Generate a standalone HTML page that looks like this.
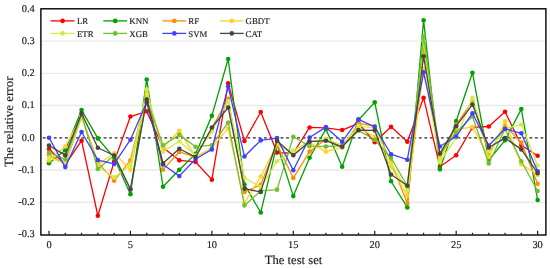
<!DOCTYPE html>
<html><head><meta charset="utf-8"><title>The relative error</title>
<style>html,body{margin:0;padding:0;background:#fff;}svg{display:block;}text{text-rendering:geometricPrecision;}</style>
</head><body>
<svg width="550" height="268" viewBox="0 0 550 268">
<rect x="0" y="0" width="550" height="268" fill="#fff"/>
<line x1="40.9" y1="202.22" x2="545.9" y2="202.22" stroke="#e9e9e9" stroke-width="1.4"/>
<line x1="40.9" y1="170.00" x2="545.9" y2="170.00" stroke="#e9e9e9" stroke-width="1.4"/>
<line x1="40.9" y1="105.56" x2="545.9" y2="105.56" stroke="#e9e9e9" stroke-width="1.4"/>
<line x1="40.9" y1="73.34" x2="545.9" y2="73.34" stroke="#e9e9e9" stroke-width="1.4"/>
<line x1="40.9" y1="41.12" x2="545.9" y2="41.12" stroke="#e9e9e9" stroke-width="1.4"/>
<line x1="42.8" y1="137.78" x2="545.9" y2="137.78" stroke="#262626" stroke-width="1.3" stroke-dasharray="2.8 2.73"/>
<polyline points="49.00,149.06 65.29,164.52 81.57,140.68 97.86,215.75 114.15,161.62 130.44,116.51 146.72,111.36 163.01,147.45 179.30,160.33 195.58,161.95 211.87,179.67 228.16,83.33 244.44,141.00 260.73,112.00 277.02,152.60 293.30,153.25 309.59,127.47 325.88,127.79 342.17,130.05 358.45,123.28 374.74,142.29 391.03,126.83 407.31,141.65 423.60,97.83 439.89,166.78 456.17,155.18 472.46,127.47 488.75,126.50 505.04,111.68 521.32,145.19 537.61,155.82" fill="none" stroke="#ff0000" stroke-width="1.3" stroke-linejoin="round"/>
<circle cx="49.00" cy="149.06" r="2.3" fill="#ff0000"/>
<circle cx="65.29" cy="164.52" r="2.3" fill="#ff0000"/>
<circle cx="81.57" cy="140.68" r="2.3" fill="#ff0000"/>
<circle cx="97.86" cy="215.75" r="2.3" fill="#ff0000"/>
<circle cx="114.15" cy="161.62" r="2.3" fill="#ff0000"/>
<circle cx="130.44" cy="116.51" r="2.3" fill="#ff0000"/>
<circle cx="146.72" cy="111.36" r="2.3" fill="#ff0000"/>
<circle cx="163.01" cy="147.45" r="2.3" fill="#ff0000"/>
<circle cx="179.30" cy="160.33" r="2.3" fill="#ff0000"/>
<circle cx="195.58" cy="161.95" r="2.3" fill="#ff0000"/>
<circle cx="211.87" cy="179.67" r="2.3" fill="#ff0000"/>
<circle cx="228.16" cy="83.33" r="2.3" fill="#ff0000"/>
<circle cx="244.44" cy="141.00" r="2.3" fill="#ff0000"/>
<circle cx="260.73" cy="112.00" r="2.3" fill="#ff0000"/>
<circle cx="277.02" cy="152.60" r="2.3" fill="#ff0000"/>
<circle cx="293.30" cy="153.25" r="2.3" fill="#ff0000"/>
<circle cx="309.59" cy="127.47" r="2.3" fill="#ff0000"/>
<circle cx="325.88" cy="127.79" r="2.3" fill="#ff0000"/>
<circle cx="342.17" cy="130.05" r="2.3" fill="#ff0000"/>
<circle cx="358.45" cy="123.28" r="2.3" fill="#ff0000"/>
<circle cx="374.74" cy="142.29" r="2.3" fill="#ff0000"/>
<circle cx="391.03" cy="126.83" r="2.3" fill="#ff0000"/>
<circle cx="407.31" cy="141.65" r="2.3" fill="#ff0000"/>
<circle cx="423.60" cy="97.83" r="2.3" fill="#ff0000"/>
<circle cx="439.89" cy="166.78" r="2.3" fill="#ff0000"/>
<circle cx="456.17" cy="155.18" r="2.3" fill="#ff0000"/>
<circle cx="472.46" cy="127.47" r="2.3" fill="#ff0000"/>
<circle cx="488.75" cy="126.50" r="2.3" fill="#ff0000"/>
<circle cx="505.04" cy="111.68" r="2.3" fill="#ff0000"/>
<circle cx="521.32" cy="145.19" r="2.3" fill="#ff0000"/>
<circle cx="537.61" cy="155.82" r="2.3" fill="#ff0000"/>
<polyline points="49.00,163.23 65.29,150.35 81.57,110.07 97.86,138.42 114.15,157.76 130.44,194.16 146.72,79.46 163.01,186.75 179.30,169.68 195.58,153.89 211.87,115.87 228.16,59.00 244.44,184.50 260.73,212.53 277.02,144.22 293.30,196.10 309.59,157.76 325.88,129.08 342.17,166.78 358.45,120.06 374.74,102.34 391.03,181.28 407.31,207.38 423.60,20.18 439.89,169.36 456.17,121.03 472.46,72.70 488.75,160.01 505.04,140.36 521.32,109.10 537.61,199.96" fill="none" stroke="#00a000" stroke-width="1.3" stroke-linejoin="round"/>
<circle cx="49.00" cy="163.23" r="2.3" fill="#00a000"/>
<circle cx="65.29" cy="150.35" r="2.3" fill="#00a000"/>
<circle cx="81.57" cy="110.07" r="2.3" fill="#00a000"/>
<circle cx="97.86" cy="138.42" r="2.3" fill="#00a000"/>
<circle cx="114.15" cy="157.76" r="2.3" fill="#00a000"/>
<circle cx="130.44" cy="194.16" r="2.3" fill="#00a000"/>
<circle cx="146.72" cy="79.46" r="2.3" fill="#00a000"/>
<circle cx="163.01" cy="186.75" r="2.3" fill="#00a000"/>
<circle cx="179.30" cy="169.68" r="2.3" fill="#00a000"/>
<circle cx="195.58" cy="153.89" r="2.3" fill="#00a000"/>
<circle cx="211.87" cy="115.87" r="2.3" fill="#00a000"/>
<circle cx="228.16" cy="59.00" r="2.3" fill="#00a000"/>
<circle cx="244.44" cy="184.50" r="2.3" fill="#00a000"/>
<circle cx="260.73" cy="212.53" r="2.3" fill="#00a000"/>
<circle cx="277.02" cy="144.22" r="2.3" fill="#00a000"/>
<circle cx="293.30" cy="196.10" r="2.3" fill="#00a000"/>
<circle cx="309.59" cy="157.76" r="2.3" fill="#00a000"/>
<circle cx="325.88" cy="129.08" r="2.3" fill="#00a000"/>
<circle cx="342.17" cy="166.78" r="2.3" fill="#00a000"/>
<circle cx="358.45" cy="120.06" r="2.3" fill="#00a000"/>
<circle cx="374.74" cy="102.34" r="2.3" fill="#00a000"/>
<circle cx="391.03" cy="181.28" r="2.3" fill="#00a000"/>
<circle cx="407.31" cy="207.38" r="2.3" fill="#00a000"/>
<circle cx="423.60" cy="20.18" r="2.3" fill="#00a000"/>
<circle cx="439.89" cy="169.36" r="2.3" fill="#00a000"/>
<circle cx="456.17" cy="121.03" r="2.3" fill="#00a000"/>
<circle cx="472.46" cy="72.70" r="2.3" fill="#00a000"/>
<circle cx="488.75" cy="160.01" r="2.3" fill="#00a000"/>
<circle cx="505.04" cy="140.36" r="2.3" fill="#00a000"/>
<circle cx="521.32" cy="109.10" r="2.3" fill="#00a000"/>
<circle cx="537.61" cy="199.96" r="2.3" fill="#00a000"/>
<polyline points="49.00,155.18 65.29,164.20 81.57,116.84 97.86,162.59 114.15,180.63 130.44,160.33 146.72,92.99 163.01,169.68 179.30,151.96 195.58,157.11 211.87,128.11 228.16,98.79 244.44,191.91 260.73,184.82 277.02,144.22 293.30,178.06 309.59,151.63 325.88,139.07 342.17,147.45 358.45,123.28 374.74,126.18 391.03,161.95 407.31,203.19 423.60,47.56 439.89,157.11 456.17,124.89 472.46,101.05 488.75,153.57 505.04,125.54 521.32,142.61 537.61,183.85" fill="none" stroke="#ff8c00" stroke-width="1.3" stroke-linejoin="round"/>
<circle cx="49.00" cy="155.18" r="2.3" fill="#ff8c00"/>
<circle cx="65.29" cy="164.20" r="2.3" fill="#ff8c00"/>
<circle cx="81.57" cy="116.84" r="2.3" fill="#ff8c00"/>
<circle cx="97.86" cy="162.59" r="2.3" fill="#ff8c00"/>
<circle cx="114.15" cy="180.63" r="2.3" fill="#ff8c00"/>
<circle cx="130.44" cy="160.33" r="2.3" fill="#ff8c00"/>
<circle cx="146.72" cy="92.99" r="2.3" fill="#ff8c00"/>
<circle cx="163.01" cy="169.68" r="2.3" fill="#ff8c00"/>
<circle cx="179.30" cy="151.96" r="2.3" fill="#ff8c00"/>
<circle cx="195.58" cy="157.11" r="2.3" fill="#ff8c00"/>
<circle cx="211.87" cy="128.11" r="2.3" fill="#ff8c00"/>
<circle cx="228.16" cy="98.79" r="2.3" fill="#ff8c00"/>
<circle cx="244.44" cy="191.91" r="2.3" fill="#ff8c00"/>
<circle cx="260.73" cy="184.82" r="2.3" fill="#ff8c00"/>
<circle cx="277.02" cy="144.22" r="2.3" fill="#ff8c00"/>
<circle cx="293.30" cy="178.06" r="2.3" fill="#ff8c00"/>
<circle cx="309.59" cy="151.63" r="2.3" fill="#ff8c00"/>
<circle cx="325.88" cy="139.07" r="2.3" fill="#ff8c00"/>
<circle cx="342.17" cy="147.45" r="2.3" fill="#ff8c00"/>
<circle cx="358.45" cy="123.28" r="2.3" fill="#ff8c00"/>
<circle cx="374.74" cy="126.18" r="2.3" fill="#ff8c00"/>
<circle cx="391.03" cy="161.95" r="2.3" fill="#ff8c00"/>
<circle cx="407.31" cy="203.19" r="2.3" fill="#ff8c00"/>
<circle cx="423.60" cy="47.56" r="2.3" fill="#ff8c00"/>
<circle cx="439.89" cy="157.11" r="2.3" fill="#ff8c00"/>
<circle cx="456.17" cy="124.89" r="2.3" fill="#ff8c00"/>
<circle cx="472.46" cy="101.05" r="2.3" fill="#ff8c00"/>
<circle cx="488.75" cy="153.57" r="2.3" fill="#ff8c00"/>
<circle cx="505.04" cy="125.54" r="2.3" fill="#ff8c00"/>
<circle cx="521.32" cy="142.61" r="2.3" fill="#ff8c00"/>
<circle cx="537.61" cy="183.85" r="2.3" fill="#ff8c00"/>
<polyline points="49.00,160.33 65.29,146.48 81.57,116.51 97.86,164.84 114.15,153.25 130.44,169.68 146.72,94.61 163.01,147.45 179.30,130.69 195.58,157.11 211.87,147.45 228.16,128.44 244.44,203.19 260.73,176.44 277.02,144.55 293.30,153.57 309.59,142.94 325.88,151.63 342.17,147.45 358.45,128.11 374.74,136.49 391.03,166.46 407.31,195.78 423.60,69.15 439.89,158.72 456.17,129.72 472.46,126.83 488.75,157.11 505.04,121.35 521.32,164.20 537.61,174.83" fill="none" stroke="#ffd324" stroke-width="1.3" stroke-linejoin="round"/>
<circle cx="49.00" cy="160.33" r="2.3" fill="#ffd324"/>
<circle cx="65.29" cy="146.48" r="2.3" fill="#ffd324"/>
<circle cx="81.57" cy="116.51" r="2.3" fill="#ffd324"/>
<circle cx="97.86" cy="164.84" r="2.3" fill="#ffd324"/>
<circle cx="114.15" cy="153.25" r="2.3" fill="#ffd324"/>
<circle cx="130.44" cy="169.68" r="2.3" fill="#ffd324"/>
<circle cx="146.72" cy="94.61" r="2.3" fill="#ffd324"/>
<circle cx="163.01" cy="147.45" r="2.3" fill="#ffd324"/>
<circle cx="179.30" cy="130.69" r="2.3" fill="#ffd324"/>
<circle cx="195.58" cy="157.11" r="2.3" fill="#ffd324"/>
<circle cx="211.87" cy="147.45" r="2.3" fill="#ffd324"/>
<circle cx="228.16" cy="128.44" r="2.3" fill="#ffd324"/>
<circle cx="244.44" cy="203.19" r="2.3" fill="#ffd324"/>
<circle cx="260.73" cy="176.44" r="2.3" fill="#ffd324"/>
<circle cx="277.02" cy="144.55" r="2.3" fill="#ffd324"/>
<circle cx="293.30" cy="153.57" r="2.3" fill="#ffd324"/>
<circle cx="309.59" cy="142.94" r="2.3" fill="#ffd324"/>
<circle cx="325.88" cy="151.63" r="2.3" fill="#ffd324"/>
<circle cx="342.17" cy="147.45" r="2.3" fill="#ffd324"/>
<circle cx="358.45" cy="128.11" r="2.3" fill="#ffd324"/>
<circle cx="374.74" cy="136.49" r="2.3" fill="#ffd324"/>
<circle cx="391.03" cy="166.46" r="2.3" fill="#ffd324"/>
<circle cx="407.31" cy="195.78" r="2.3" fill="#ffd324"/>
<circle cx="423.60" cy="69.15" r="2.3" fill="#ffd324"/>
<circle cx="439.89" cy="158.72" r="2.3" fill="#ffd324"/>
<circle cx="456.17" cy="129.72" r="2.3" fill="#ffd324"/>
<circle cx="472.46" cy="126.83" r="2.3" fill="#ffd324"/>
<circle cx="488.75" cy="157.11" r="2.3" fill="#ffd324"/>
<circle cx="505.04" cy="121.35" r="2.3" fill="#ffd324"/>
<circle cx="521.32" cy="164.20" r="2.3" fill="#ffd324"/>
<circle cx="537.61" cy="174.83" r="2.3" fill="#ffd324"/>
<polyline points="49.00,157.43 65.29,163.56 81.57,115.87 97.86,166.78 114.15,177.41 130.44,165.17 146.72,89.45 163.01,151.63 179.30,141.32 195.58,155.50 211.87,131.34 228.16,101.05 244.44,177.73 260.73,187.08 277.02,161.30 293.30,150.67 309.59,141.65 325.88,139.07 342.17,144.87 358.45,125.86 374.74,128.11 391.03,163.23 407.31,190.62 423.60,41.12 439.89,161.95 456.17,137.78 472.46,97.83 488.75,151.31 505.04,128.44 521.32,124.57 537.61,165.49" fill="none" stroke="#d2eb46" stroke-width="1.3" stroke-linejoin="round"/>
<circle cx="49.00" cy="157.43" r="2.3" fill="#d2eb46"/>
<circle cx="65.29" cy="163.56" r="2.3" fill="#d2eb46"/>
<circle cx="81.57" cy="115.87" r="2.3" fill="#d2eb46"/>
<circle cx="97.86" cy="166.78" r="2.3" fill="#d2eb46"/>
<circle cx="114.15" cy="177.41" r="2.3" fill="#d2eb46"/>
<circle cx="130.44" cy="165.17" r="2.3" fill="#d2eb46"/>
<circle cx="146.72" cy="89.45" r="2.3" fill="#d2eb46"/>
<circle cx="163.01" cy="151.63" r="2.3" fill="#d2eb46"/>
<circle cx="179.30" cy="141.32" r="2.3" fill="#d2eb46"/>
<circle cx="195.58" cy="155.50" r="2.3" fill="#d2eb46"/>
<circle cx="211.87" cy="131.34" r="2.3" fill="#d2eb46"/>
<circle cx="228.16" cy="101.05" r="2.3" fill="#d2eb46"/>
<circle cx="244.44" cy="177.73" r="2.3" fill="#d2eb46"/>
<circle cx="260.73" cy="187.08" r="2.3" fill="#d2eb46"/>
<circle cx="277.02" cy="161.30" r="2.3" fill="#d2eb46"/>
<circle cx="293.30" cy="150.67" r="2.3" fill="#d2eb46"/>
<circle cx="309.59" cy="141.65" r="2.3" fill="#d2eb46"/>
<circle cx="325.88" cy="139.07" r="2.3" fill="#d2eb46"/>
<circle cx="342.17" cy="144.87" r="2.3" fill="#d2eb46"/>
<circle cx="358.45" cy="125.86" r="2.3" fill="#d2eb46"/>
<circle cx="374.74" cy="128.11" r="2.3" fill="#d2eb46"/>
<circle cx="391.03" cy="163.23" r="2.3" fill="#d2eb46"/>
<circle cx="407.31" cy="190.62" r="2.3" fill="#d2eb46"/>
<circle cx="423.60" cy="41.12" r="2.3" fill="#d2eb46"/>
<circle cx="439.89" cy="161.95" r="2.3" fill="#d2eb46"/>
<circle cx="456.17" cy="137.78" r="2.3" fill="#d2eb46"/>
<circle cx="472.46" cy="97.83" r="2.3" fill="#d2eb46"/>
<circle cx="488.75" cy="151.31" r="2.3" fill="#d2eb46"/>
<circle cx="505.04" cy="128.44" r="2.3" fill="#d2eb46"/>
<circle cx="521.32" cy="124.57" r="2.3" fill="#d2eb46"/>
<circle cx="537.61" cy="165.49" r="2.3" fill="#d2eb46"/>
<polyline points="49.00,152.60 65.29,159.37 81.57,114.58 97.86,169.03 114.15,155.50 130.44,189.33 146.72,99.44 163.01,145.19 179.30,134.88 195.58,146.80 211.87,145.19 228.16,122.64 244.44,205.44 260.73,190.94 277.02,189.65 293.30,136.81 309.59,146.16 325.88,146.48 342.17,145.84 358.45,130.69 374.74,139.71 391.03,157.76 407.31,186.11 423.60,36.29 439.89,153.89 456.17,132.30 472.46,116.51 488.75,163.56 505.04,129.08 521.32,161.30 537.61,190.94" fill="none" stroke="#70c030" stroke-width="1.3" stroke-linejoin="round"/>
<circle cx="49.00" cy="152.60" r="2.3" fill="#70c030"/>
<circle cx="65.29" cy="159.37" r="2.3" fill="#70c030"/>
<circle cx="81.57" cy="114.58" r="2.3" fill="#70c030"/>
<circle cx="97.86" cy="169.03" r="2.3" fill="#70c030"/>
<circle cx="114.15" cy="155.50" r="2.3" fill="#70c030"/>
<circle cx="130.44" cy="189.33" r="2.3" fill="#70c030"/>
<circle cx="146.72" cy="99.44" r="2.3" fill="#70c030"/>
<circle cx="163.01" cy="145.19" r="2.3" fill="#70c030"/>
<circle cx="179.30" cy="134.88" r="2.3" fill="#70c030"/>
<circle cx="195.58" cy="146.80" r="2.3" fill="#70c030"/>
<circle cx="211.87" cy="145.19" r="2.3" fill="#70c030"/>
<circle cx="228.16" cy="122.64" r="2.3" fill="#70c030"/>
<circle cx="244.44" cy="205.44" r="2.3" fill="#70c030"/>
<circle cx="260.73" cy="190.94" r="2.3" fill="#70c030"/>
<circle cx="277.02" cy="189.65" r="2.3" fill="#70c030"/>
<circle cx="293.30" cy="136.81" r="2.3" fill="#70c030"/>
<circle cx="309.59" cy="146.16" r="2.3" fill="#70c030"/>
<circle cx="325.88" cy="146.48" r="2.3" fill="#70c030"/>
<circle cx="342.17" cy="145.84" r="2.3" fill="#70c030"/>
<circle cx="358.45" cy="130.69" r="2.3" fill="#70c030"/>
<circle cx="374.74" cy="139.71" r="2.3" fill="#70c030"/>
<circle cx="391.03" cy="157.76" r="2.3" fill="#70c030"/>
<circle cx="407.31" cy="186.11" r="2.3" fill="#70c030"/>
<circle cx="423.60" cy="36.29" r="2.3" fill="#70c030"/>
<circle cx="439.89" cy="153.89" r="2.3" fill="#70c030"/>
<circle cx="456.17" cy="132.30" r="2.3" fill="#70c030"/>
<circle cx="472.46" cy="116.51" r="2.3" fill="#70c030"/>
<circle cx="488.75" cy="163.56" r="2.3" fill="#70c030"/>
<circle cx="505.04" cy="129.08" r="2.3" fill="#70c030"/>
<circle cx="521.32" cy="161.30" r="2.3" fill="#70c030"/>
<circle cx="537.61" cy="190.94" r="2.3" fill="#70c030"/>
<polyline points="49.00,137.78 65.29,167.10 81.57,131.98 97.86,160.01 114.15,163.88 130.44,139.71 146.72,102.34 163.01,164.52 179.30,176.12 195.58,159.05 211.87,149.38 228.16,86.55 244.44,156.47 260.73,140.36 277.02,138.10 293.30,170.32 309.59,137.46 325.88,127.15 342.17,141.65 358.45,119.41 374.74,126.83 391.03,154.21 407.31,159.69 423.60,72.37 439.89,146.48 456.17,136.49 472.46,113.29 488.75,145.51 505.04,128.76 521.32,133.27 537.61,171.29" fill="none" stroke="#3f3fff" stroke-width="1.3" stroke-linejoin="round"/>
<circle cx="49.00" cy="137.78" r="2.3" fill="#3f3fff"/>
<circle cx="65.29" cy="167.10" r="2.3" fill="#3f3fff"/>
<circle cx="81.57" cy="131.98" r="2.3" fill="#3f3fff"/>
<circle cx="97.86" cy="160.01" r="2.3" fill="#3f3fff"/>
<circle cx="114.15" cy="163.88" r="2.3" fill="#3f3fff"/>
<circle cx="130.44" cy="139.71" r="2.3" fill="#3f3fff"/>
<circle cx="146.72" cy="102.34" r="2.3" fill="#3f3fff"/>
<circle cx="163.01" cy="164.52" r="2.3" fill="#3f3fff"/>
<circle cx="179.30" cy="176.12" r="2.3" fill="#3f3fff"/>
<circle cx="195.58" cy="159.05" r="2.3" fill="#3f3fff"/>
<circle cx="211.87" cy="149.38" r="2.3" fill="#3f3fff"/>
<circle cx="228.16" cy="86.55" r="2.3" fill="#3f3fff"/>
<circle cx="244.44" cy="156.47" r="2.3" fill="#3f3fff"/>
<circle cx="260.73" cy="140.36" r="2.3" fill="#3f3fff"/>
<circle cx="277.02" cy="138.10" r="2.3" fill="#3f3fff"/>
<circle cx="293.30" cy="170.32" r="2.3" fill="#3f3fff"/>
<circle cx="309.59" cy="137.46" r="2.3" fill="#3f3fff"/>
<circle cx="325.88" cy="127.15" r="2.3" fill="#3f3fff"/>
<circle cx="342.17" cy="141.65" r="2.3" fill="#3f3fff"/>
<circle cx="358.45" cy="119.41" r="2.3" fill="#3f3fff"/>
<circle cx="374.74" cy="126.83" r="2.3" fill="#3f3fff"/>
<circle cx="391.03" cy="154.21" r="2.3" fill="#3f3fff"/>
<circle cx="407.31" cy="159.69" r="2.3" fill="#3f3fff"/>
<circle cx="423.60" cy="72.37" r="2.3" fill="#3f3fff"/>
<circle cx="439.89" cy="146.48" r="2.3" fill="#3f3fff"/>
<circle cx="456.17" cy="136.49" r="2.3" fill="#3f3fff"/>
<circle cx="472.46" cy="113.29" r="2.3" fill="#3f3fff"/>
<circle cx="488.75" cy="145.51" r="2.3" fill="#3f3fff"/>
<circle cx="505.04" cy="128.76" r="2.3" fill="#3f3fff"/>
<circle cx="521.32" cy="133.27" r="2.3" fill="#3f3fff"/>
<circle cx="537.61" cy="171.29" r="2.3" fill="#3f3fff"/>
<polyline points="49.00,145.51 65.29,155.18 81.57,113.29 97.86,147.77 114.15,155.50 130.44,189.33 146.72,99.44 163.01,163.23 179.30,148.73 195.58,157.11 211.87,127.47 228.16,107.49 244.44,188.69 260.73,191.91 277.02,140.68 293.30,155.18 309.59,141.65 325.88,140.68 342.17,146.80 358.45,130.05 374.74,130.37 391.03,174.51 407.31,185.47 423.60,56.26 439.89,153.57 456.17,126.18 472.46,104.59 488.75,147.45 505.04,138.10 521.32,149.38 537.61,173.22" fill="none" stroke="#454545" stroke-width="1.3" stroke-linejoin="round"/>
<circle cx="49.00" cy="145.51" r="2.3" fill="#454545"/>
<circle cx="65.29" cy="155.18" r="2.3" fill="#454545"/>
<circle cx="81.57" cy="113.29" r="2.3" fill="#454545"/>
<circle cx="97.86" cy="147.77" r="2.3" fill="#454545"/>
<circle cx="114.15" cy="155.50" r="2.3" fill="#454545"/>
<circle cx="130.44" cy="189.33" r="2.3" fill="#454545"/>
<circle cx="146.72" cy="99.44" r="2.3" fill="#454545"/>
<circle cx="163.01" cy="163.23" r="2.3" fill="#454545"/>
<circle cx="179.30" cy="148.73" r="2.3" fill="#454545"/>
<circle cx="195.58" cy="157.11" r="2.3" fill="#454545"/>
<circle cx="211.87" cy="127.47" r="2.3" fill="#454545"/>
<circle cx="228.16" cy="107.49" r="2.3" fill="#454545"/>
<circle cx="244.44" cy="188.69" r="2.3" fill="#454545"/>
<circle cx="260.73" cy="191.91" r="2.3" fill="#454545"/>
<circle cx="277.02" cy="140.68" r="2.3" fill="#454545"/>
<circle cx="293.30" cy="155.18" r="2.3" fill="#454545"/>
<circle cx="309.59" cy="141.65" r="2.3" fill="#454545"/>
<circle cx="325.88" cy="140.68" r="2.3" fill="#454545"/>
<circle cx="342.17" cy="146.80" r="2.3" fill="#454545"/>
<circle cx="358.45" cy="130.05" r="2.3" fill="#454545"/>
<circle cx="374.74" cy="130.37" r="2.3" fill="#454545"/>
<circle cx="391.03" cy="174.51" r="2.3" fill="#454545"/>
<circle cx="407.31" cy="185.47" r="2.3" fill="#454545"/>
<circle cx="423.60" cy="56.26" r="2.3" fill="#454545"/>
<circle cx="439.89" cy="153.57" r="2.3" fill="#454545"/>
<circle cx="456.17" cy="126.18" r="2.3" fill="#454545"/>
<circle cx="472.46" cy="104.59" r="2.3" fill="#454545"/>
<circle cx="488.75" cy="147.45" r="2.3" fill="#454545"/>
<circle cx="505.04" cy="138.10" r="2.3" fill="#454545"/>
<circle cx="521.32" cy="149.38" r="2.3" fill="#454545"/>
<circle cx="537.61" cy="173.22" r="2.3" fill="#454545"/>
<rect x="40.9" y="8.8" width="505.00" height="226.20" fill="none" stroke="#000" stroke-width="1.4"/>
<line x1="49.00" y1="235.0" x2="49.00" y2="230.80" stroke="#1a1a1a" stroke-width="1.2"/>
<line x1="65.29" y1="235.0" x2="65.29" y2="232.80" stroke="#1a1a1a" stroke-width="1.2"/>
<line x1="81.57" y1="235.0" x2="81.57" y2="232.80" stroke="#1a1a1a" stroke-width="1.2"/>
<line x1="97.86" y1="235.0" x2="97.86" y2="232.80" stroke="#1a1a1a" stroke-width="1.2"/>
<line x1="114.15" y1="235.0" x2="114.15" y2="232.80" stroke="#1a1a1a" stroke-width="1.2"/>
<line x1="130.44" y1="235.0" x2="130.44" y2="230.80" stroke="#1a1a1a" stroke-width="1.2"/>
<line x1="146.72" y1="235.0" x2="146.72" y2="232.80" stroke="#1a1a1a" stroke-width="1.2"/>
<line x1="163.01" y1="235.0" x2="163.01" y2="232.80" stroke="#1a1a1a" stroke-width="1.2"/>
<line x1="179.30" y1="235.0" x2="179.30" y2="232.80" stroke="#1a1a1a" stroke-width="1.2"/>
<line x1="195.58" y1="235.0" x2="195.58" y2="232.80" stroke="#1a1a1a" stroke-width="1.2"/>
<line x1="211.87" y1="235.0" x2="211.87" y2="230.80" stroke="#1a1a1a" stroke-width="1.2"/>
<line x1="228.16" y1="235.0" x2="228.16" y2="232.80" stroke="#1a1a1a" stroke-width="1.2"/>
<line x1="244.44" y1="235.0" x2="244.44" y2="232.80" stroke="#1a1a1a" stroke-width="1.2"/>
<line x1="260.73" y1="235.0" x2="260.73" y2="232.80" stroke="#1a1a1a" stroke-width="1.2"/>
<line x1="277.02" y1="235.0" x2="277.02" y2="232.80" stroke="#1a1a1a" stroke-width="1.2"/>
<line x1="293.30" y1="235.0" x2="293.30" y2="230.80" stroke="#1a1a1a" stroke-width="1.2"/>
<line x1="309.59" y1="235.0" x2="309.59" y2="232.80" stroke="#1a1a1a" stroke-width="1.2"/>
<line x1="325.88" y1="235.0" x2="325.88" y2="232.80" stroke="#1a1a1a" stroke-width="1.2"/>
<line x1="342.17" y1="235.0" x2="342.17" y2="232.80" stroke="#1a1a1a" stroke-width="1.2"/>
<line x1="358.45" y1="235.0" x2="358.45" y2="232.80" stroke="#1a1a1a" stroke-width="1.2"/>
<line x1="374.74" y1="235.0" x2="374.74" y2="230.80" stroke="#1a1a1a" stroke-width="1.2"/>
<line x1="391.03" y1="235.0" x2="391.03" y2="232.80" stroke="#1a1a1a" stroke-width="1.2"/>
<line x1="407.31" y1="235.0" x2="407.31" y2="232.80" stroke="#1a1a1a" stroke-width="1.2"/>
<line x1="423.60" y1="235.0" x2="423.60" y2="232.80" stroke="#1a1a1a" stroke-width="1.2"/>
<line x1="439.89" y1="235.0" x2="439.89" y2="232.80" stroke="#1a1a1a" stroke-width="1.2"/>
<line x1="456.17" y1="235.0" x2="456.17" y2="230.80" stroke="#1a1a1a" stroke-width="1.2"/>
<line x1="472.46" y1="235.0" x2="472.46" y2="232.80" stroke="#1a1a1a" stroke-width="1.2"/>
<line x1="488.75" y1="235.0" x2="488.75" y2="232.80" stroke="#1a1a1a" stroke-width="1.2"/>
<line x1="505.04" y1="235.0" x2="505.04" y2="232.80" stroke="#1a1a1a" stroke-width="1.2"/>
<line x1="521.32" y1="235.0" x2="521.32" y2="232.80" stroke="#1a1a1a" stroke-width="1.2"/>
<line x1="537.61" y1="235.0" x2="537.61" y2="230.80" stroke="#1a1a1a" stroke-width="1.2"/>
<text x="49.00" y="248.2" font-family="'Liberation Serif', serif" font-size="10.4" text-anchor="middle" fill="#1a1a1a" stroke="#1a1a1a" stroke-width="0.15">0</text>
<text x="130.44" y="248.2" font-family="'Liberation Serif', serif" font-size="10.4" text-anchor="middle" fill="#1a1a1a" stroke="#1a1a1a" stroke-width="0.15">5</text>
<text x="211.87" y="248.2" font-family="'Liberation Serif', serif" font-size="10.4" text-anchor="middle" fill="#1a1a1a" stroke="#1a1a1a" stroke-width="0.15">10</text>
<text x="293.30" y="248.2" font-family="'Liberation Serif', serif" font-size="10.4" text-anchor="middle" fill="#1a1a1a" stroke="#1a1a1a" stroke-width="0.15">15</text>
<text x="374.74" y="248.2" font-family="'Liberation Serif', serif" font-size="10.4" text-anchor="middle" fill="#1a1a1a" stroke="#1a1a1a" stroke-width="0.15">20</text>
<text x="456.17" y="248.2" font-family="'Liberation Serif', serif" font-size="10.4" text-anchor="middle" fill="#1a1a1a" stroke="#1a1a1a" stroke-width="0.15">25</text>
<text x="537.61" y="248.2" font-family="'Liberation Serif', serif" font-size="10.4" text-anchor="middle" fill="#1a1a1a" stroke="#1a1a1a" stroke-width="0.15">30</text>
<text x="34.7" y="237.34" font-family="'Liberation Serif', serif" font-size="10.4" text-anchor="end" fill="#1a1a1a" stroke="#1a1a1a" stroke-width="0.15">-0.3</text>
<text x="34.7" y="205.12" font-family="'Liberation Serif', serif" font-size="10.4" text-anchor="end" fill="#1a1a1a" stroke="#1a1a1a" stroke-width="0.15">-0.2</text>
<text x="34.7" y="172.90" font-family="'Liberation Serif', serif" font-size="10.4" text-anchor="end" fill="#1a1a1a" stroke="#1a1a1a" stroke-width="0.15">-0.1</text>
<text x="34.7" y="140.68" font-family="'Liberation Serif', serif" font-size="10.4" text-anchor="end" fill="#1a1a1a" stroke="#1a1a1a" stroke-width="0.15">0.0</text>
<text x="34.7" y="108.46" font-family="'Liberation Serif', serif" font-size="10.4" text-anchor="end" fill="#1a1a1a" stroke="#1a1a1a" stroke-width="0.15">0.1</text>
<text x="34.7" y="76.24" font-family="'Liberation Serif', serif" font-size="10.4" text-anchor="end" fill="#1a1a1a" stroke="#1a1a1a" stroke-width="0.15">0.2</text>
<text x="34.7" y="44.02" font-family="'Liberation Serif', serif" font-size="10.4" text-anchor="end" fill="#1a1a1a" stroke="#1a1a1a" stroke-width="0.15">0.3</text>
<text x="34.7" y="11.80" font-family="'Liberation Serif', serif" font-size="10.4" text-anchor="end" fill="#1a1a1a" stroke="#1a1a1a" stroke-width="0.15">0.4</text>
<text x="293.5" y="263.7" font-family="'Liberation Serif', serif" font-size="12.5" text-anchor="middle" fill="#1a1a1a" textLength="57.5" lengthAdjust="spacingAndGlyphs" stroke="#1a1a1a" stroke-width="0.15">The test set</text>
<text transform="translate(13,121.8) rotate(-90)" x="0" y="0" font-family="'Liberation Serif', serif" font-size="12.5" text-anchor="middle" fill="#1a1a1a" textLength="90.5" lengthAdjust="spacingAndGlyphs" stroke="#1a1a1a" stroke-width="0.15">The relative error</text>
<line x1="50.7" y1="20.9" x2="74.50" y2="20.9" stroke="#ff0000" stroke-width="1.3"/>
<circle cx="62.60" cy="20.9" r="2.3" fill="#ff0000"/>
<text x="77.0" y="24.00" font-family="'Liberation Serif', serif" font-size="8.8" fill="#1a1a1a" stroke="#1a1a1a" stroke-width="0.15">LR</text>
<line x1="103.3" y1="20.9" x2="127.10" y2="20.9" stroke="#00a000" stroke-width="1.3"/>
<circle cx="115.20" cy="20.9" r="2.3" fill="#00a000"/>
<text x="129.3" y="24.00" font-family="'Liberation Serif', serif" font-size="8.8" fill="#1a1a1a" stroke="#1a1a1a" stroke-width="0.15">KNN</text>
<line x1="162.4" y1="20.9" x2="186.20" y2="20.9" stroke="#ff8c00" stroke-width="1.3"/>
<circle cx="174.30" cy="20.9" r="2.3" fill="#ff8c00"/>
<text x="188.3" y="24.00" font-family="'Liberation Serif', serif" font-size="8.8" fill="#1a1a1a" stroke="#1a1a1a" stroke-width="0.15">RF</text>
<line x1="219.9" y1="20.9" x2="243.70" y2="20.9" stroke="#ffd324" stroke-width="1.3"/>
<circle cx="231.80" cy="20.9" r="2.3" fill="#ffd324"/>
<text x="245.6" y="24.00" font-family="'Liberation Serif', serif" font-size="8.8" fill="#1a1a1a" stroke="#1a1a1a" stroke-width="0.15">GBDT</text>
<line x1="50.7" y1="33.4" x2="74.50" y2="33.4" stroke="#d2eb46" stroke-width="1.3"/>
<circle cx="62.60" cy="33.4" r="2.3" fill="#d2eb46"/>
<text x="77.0" y="36.50" font-family="'Liberation Serif', serif" font-size="8.8" fill="#1a1a1a" stroke="#1a1a1a" stroke-width="0.15">ETR</text>
<line x1="103.3" y1="33.4" x2="127.10" y2="33.4" stroke="#70c030" stroke-width="1.3"/>
<circle cx="115.20" cy="33.4" r="2.3" fill="#70c030"/>
<text x="129.3" y="36.50" font-family="'Liberation Serif', serif" font-size="8.8" fill="#1a1a1a" stroke="#1a1a1a" stroke-width="0.15">XGB</text>
<line x1="162.4" y1="33.4" x2="186.20" y2="33.4" stroke="#3f3fff" stroke-width="1.3"/>
<circle cx="174.30" cy="33.4" r="2.3" fill="#3f3fff"/>
<text x="188.3" y="36.50" font-family="'Liberation Serif', serif" font-size="8.8" fill="#1a1a1a" stroke="#1a1a1a" stroke-width="0.15">SVM</text>
<line x1="219.9" y1="33.4" x2="243.70" y2="33.4" stroke="#454545" stroke-width="1.3"/>
<circle cx="231.80" cy="33.4" r="2.3" fill="#454545"/>
<text x="245.6" y="36.50" font-family="'Liberation Serif', serif" font-size="8.8" fill="#1a1a1a" stroke="#1a1a1a" stroke-width="0.15">CAT</text>
</svg>
</body></html>
